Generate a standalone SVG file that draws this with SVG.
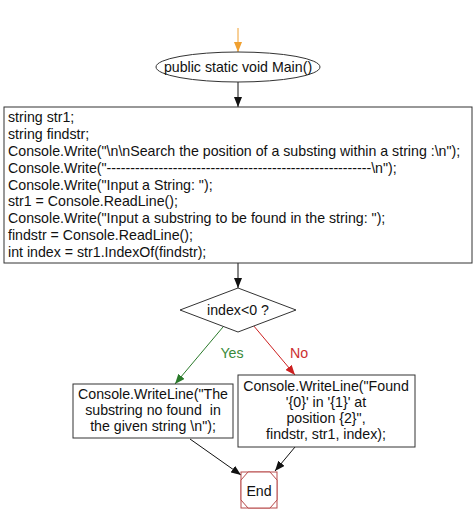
<svg xmlns="http://www.w3.org/2000/svg" width="474" height="523" viewBox="0 0 474 523">
<style>
text{font-family:"Liberation Sans",Arial,sans-serif;font-size:14.2px;fill:#111}
.c{text-anchor:middle}
.n{fill:#fff;stroke:#333;stroke-width:1}
.e{fill:#fff;stroke:#b84a4a;stroke-width:1}
.l{fill:none;stroke:#111;stroke-width:1}
</style>
<defs>
<marker id="ab" markerWidth="10" markerHeight="8" refX="10" refY="4" orient="auto" markerUnits="userSpaceOnUse"><path d="M0,0 L10,4 L0,8 Z" fill="#111"/></marker>
<marker id="ao" markerWidth="10" markerHeight="8" refX="10" refY="4" orient="auto" markerUnits="userSpaceOnUse"><path d="M0,0 L10,4 L0,8 Z" fill="#f0a030"/></marker>
<marker id="ag" markerWidth="10" markerHeight="8" refX="10" refY="4" orient="auto" markerUnits="userSpaceOnUse"><path d="M0,0 L10,4 L0,8 Z" fill="#2a7a2a"/></marker>
<marker id="ar" markerWidth="10" markerHeight="8" refX="10" refY="4" orient="auto" markerUnits="userSpaceOnUse"><path d="M0,0 L10,4 L0,8 Z" fill="#cc2020"/></marker>
</defs>
<g id="connectors">
<line x1="238" y1="28" x2="238" y2="52" stroke="#f0a030" stroke-width="1" marker-end="url(#ao)"/>
<line x1="238" y1="82" x2="238" y2="107" class="l" marker-end="url(#ab)"/>
<line x1="238" y1="263" x2="238" y2="288" class="l" marker-end="url(#ab)"/>
<line x1="223" y1="327" x2="175" y2="384" stroke="#2a7a2a" stroke-width="1" marker-end="url(#ag)"/>
<line x1="253" y1="325" x2="295" y2="375" stroke="#cc2020" stroke-width="1" marker-end="url(#ar)"/>
<line x1="190" y1="439" x2="241" y2="475" class="l" marker-end="url(#ab)"/>
<line x1="295" y1="447" x2="275" y2="471" class="l" marker-end="url(#ab)"/>
<text x="232" y="358" class="c" style="fill:#3a8a3a">Yes</text>
<text x="299" y="358" class="c" style="fill:#cc3030">No</text>
</g>
<g id="start">
<ellipse cx="238" cy="67" rx="82" ry="15" class="n"/>
<text x="238" y="72" class="c">public static void Main()</text>
</g>
<g id="process">
<rect x="4" y="107" width="468" height="156" class="n" stroke-width="1.5"/>
<text x="8" y="122">string str1;</text>
<text x="8" y="139">string findstr;</text>
<text x="8" y="156">Console.Write("\n\nSearch the position of a substing within a string :\n");</text>
<text x="8" y="173">Console.Write("--------------------------------------------------------\n");</text>
<text x="8" y="190">Console.Write("Input a String: ");</text>
<text x="8" y="206">str1 = Console.ReadLine();</text>
<text x="8" y="223">Console.Write("Input a substring to be found in the string: ");</text>
<text x="8" y="240">findstr = Console.ReadLine();</text>
<text x="8" y="257">int index = str1.IndexOf(findstr);</text>
</g>
<g id="decision">
<polygon points="238,288 296,310 238,332 180,310" class="n"/>
<text x="238" y="315" class="c">index&lt;0 ?</text>
</g>
<g id="yes-box">
<rect x="73" y="384" width="160" height="54" class="n"/>
<text x="153" y="399" class="c">Console.WriteLine("The</text>
<text x="153" y="415" class="c" xml:space="preserve">substring no found  in</text>
<text x="153" y="431" class="c">the given string \n");</text>
</g>
<g id="no-box">
<rect x="238" y="375" width="177" height="72" class="n"/>
<text x="326" y="391" class="c">Console.WriteLine("Found</text>
<text x="326" y="407" class="c">'{0}' in '{1}' at</text>
<text x="326" y="423" class="c">position {2}",</text>
<text x="326" y="439" class="c">findstr, str1, index);</text>
</g>
<g id="end">
<rect x="241" y="472" width="36" height="36" class="e"/>
<polygon points="248,472 270,472 277,480 277,500 270,508 248,508 241,500 241,480" class="e"/>
<text x="259" y="496" class="c">End</text>
</g>
</svg>
